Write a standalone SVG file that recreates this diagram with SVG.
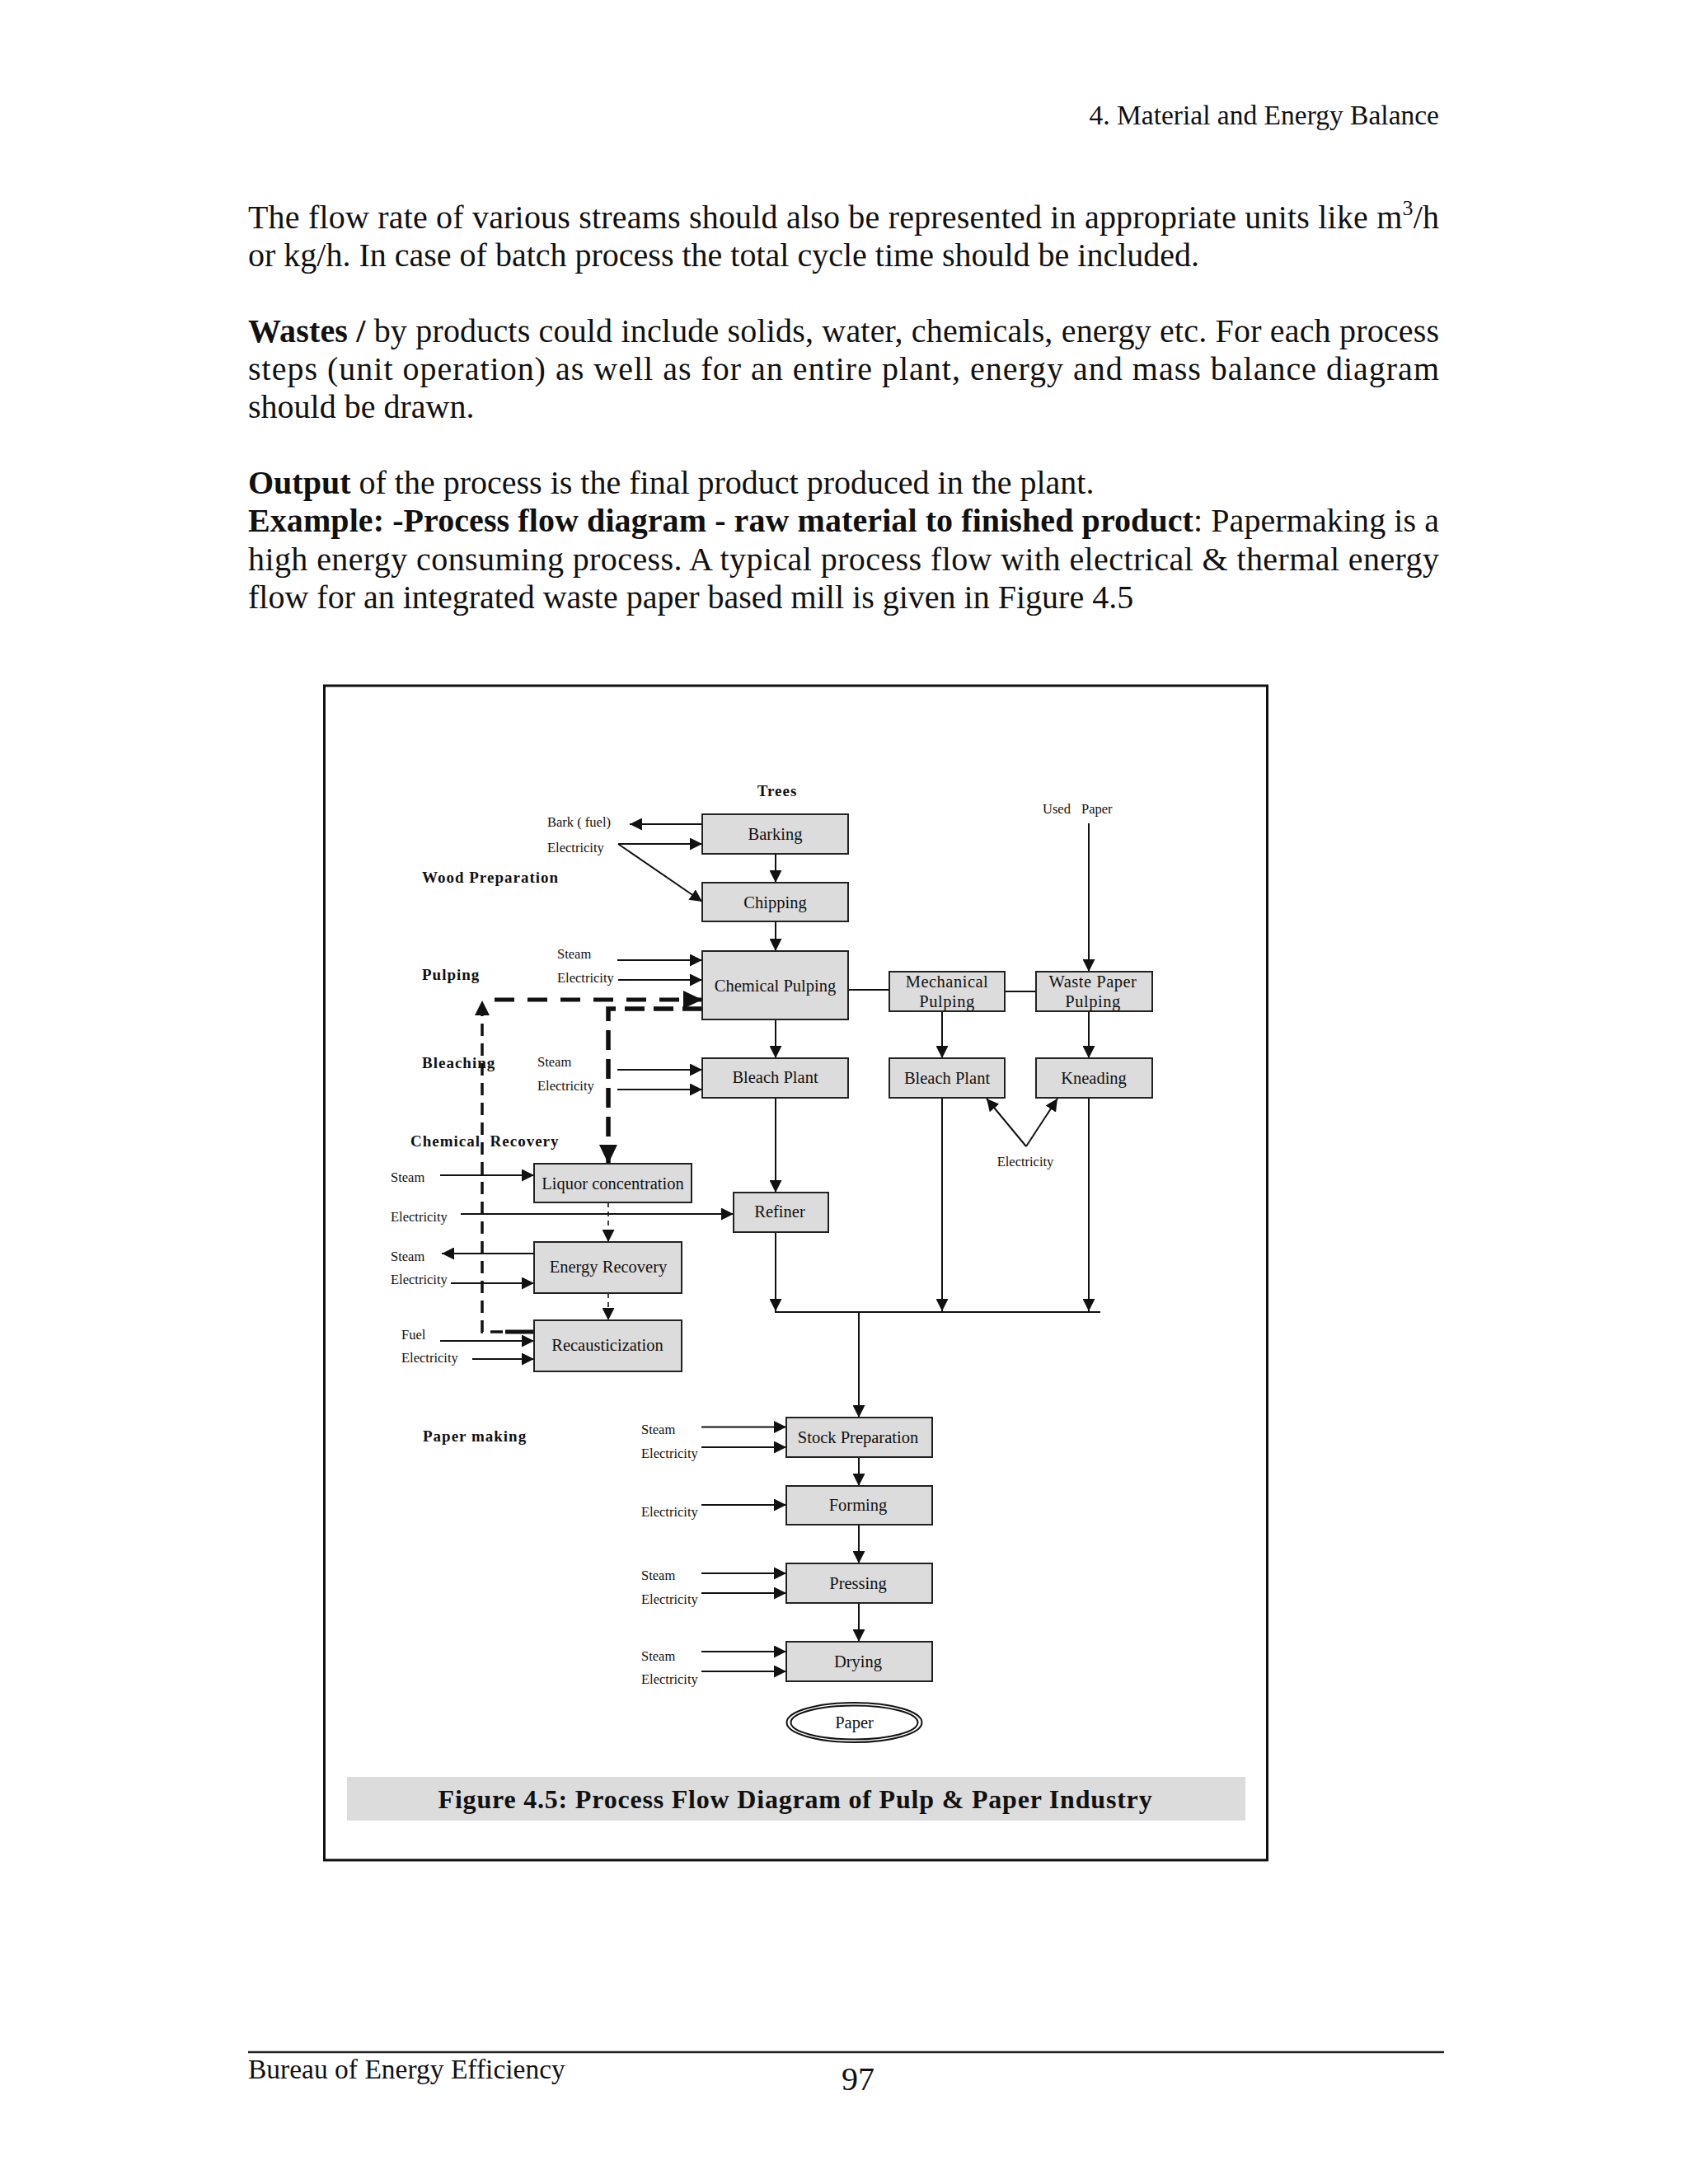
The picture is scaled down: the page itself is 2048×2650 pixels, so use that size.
<svg xmlns="http://www.w3.org/2000/svg" width="2048" height="2650" viewBox="0 0 2048 2650">
<style>
text{font-family:"Liberation Serif","Times New Roman",serif;fill:#111}
.pg{font-size:40px}
.hd{font-size:33.5px}
.box{fill:#dcdcdc;stroke:#222;stroke-width:2}
.nm{font-size:20.5px;text-anchor:middle}
.lb{font-size:16.5px}
.sec{font-size:19px;font-weight:bold;letter-spacing:1px}
.ln{stroke:#111;stroke-width:2;fill:none}
.ar{stroke:#111;stroke-width:2;fill:none;marker-end:url(#ah)}
.thk{stroke:#111;stroke-width:5;fill:none;stroke-dasharray:24 16}
.thn{stroke:#111;stroke-width:1.6;fill:none;stroke-dasharray:6 5;marker-end:url(#ah)}
</style>
<defs>
<marker id="ah" markerUnits="userSpaceOnUse" viewBox="0 0 15 15" markerWidth="15" markerHeight="15" refX="15" refY="7.5" orient="auto"><path d="M0,0 L15,7.5 L0,15 z" fill="#111"/></marker>
<marker id="ahb" markerUnits="userSpaceOnUse" viewBox="0 0 23 22" markerWidth="23" markerHeight="22" refX="23" refY="11" orient="auto"><path d="M0,0 L23,11 L0,22 z" fill="#111"/></marker>
<marker id="ahm" markerUnits="userSpaceOnUse" viewBox="0 0 18 18" markerWidth="18" markerHeight="18" refX="18" refY="9" orient="auto"><path d="M0,0 L18,9 L0,18 z" fill="#111"/></marker>
</defs>
<rect width="2048" height="2650" fill="#fff"/>

<g id="page-text">
<text class="hd" x="1746" y="151" text-anchor="end">4. Material and Energy Balance</text>
<text class="pg" x="301" y="277" textLength="1445">The flow rate of various streams should also be represented in appropriate units like m<tspan font-size="26" dy="-16">3</tspan><tspan dy="16">/h</tspan></text>
<text class="pg" x="301" y="323">or kg/h. In case of batch process the total cycle time should be included.</text>
<text class="pg" x="301" y="415" textLength="1445"><tspan font-weight="bold">Wastes /</tspan> by products could include solids, water, chemicals, energy etc. For each process</text>
<text class="pg" x="301" y="461" textLength="1445">steps (unit operation) as well as for an entire plant, energy and mass balance diagram</text>
<text class="pg" x="301" y="507">should be drawn.</text>
<text class="pg" x="301" y="599"><tspan font-weight="bold">Output</tspan> of the process is the final product produced in the plant.</text>
<text class="pg" x="301" y="645" textLength="1445"><tspan font-weight="bold">Example: -Process flow diagram - raw material to finished product</tspan>: Papermaking is a</text>
<text class="pg" x="301" y="692" textLength="1445">high energy consuming process. A typical process flow with electrical &amp; thermal energy</text>
<text class="pg" x="301" y="738">flow for an integrated waste paper based mill is given in Figure 4.5</text>
<line x1="301" y1="2490" x2="1752" y2="2490" stroke="#222" stroke-width="2.5"/>
<text class="hd" x="301" y="2522">Bureau of Energy Efficiency</text>
<text class="pg" x="1021" y="2536">97</text>
</g>

<rect id="frame" x="393.5" y="832" width="1144" height="1425" fill="none" stroke="#111" stroke-width="3"/>

<g id="labels">
<text class="sec" x="943" y="966" text-anchor="middle">Trees</text>
<text class="sec" x="512" y="1071">Wood  Preparation</text>
<text class="sec" x="512" y="1189">Pulping</text>
<text class="sec" x="512" y="1296">Bleaching</text>
<text class="sec" x="498" y="1391" xml:space="preserve">Chemical  Recovery</text>
<text class="sec" x="513" y="1749">Paper making</text>
<text class="lb" x="1265" y="987" word-spacing="9">Used Paper</text>
<text class="lb" x="664" y="1003">Bark ( fuel)</text>
<text class="lb" x="664" y="1034">Electricity</text>
<text class="lb" x="676" y="1163">Steam</text>
<text class="lb" x="676" y="1192">Electricity</text>
<text class="lb" x="652" y="1294">Steam</text>
<text class="lb" x="652" y="1323">Electricity</text>
<text class="lb" x="1244" y="1415" text-anchor="middle">Electricity</text>
<text class="lb" x="474" y="1434">Steam</text>
<text class="lb" x="474" y="1482">Electricity</text>
<text class="lb" x="474" y="1530">Steam</text>
<text class="lb" x="474" y="1558">Electricity</text>
<text class="lb" x="487" y="1625">Fuel</text>
<text class="lb" x="487" y="1653">Electricity</text>
<text class="lb" x="778" y="1740">Steam</text>
<text class="lb" x="778" y="1769">Electricity</text>
<text class="lb" x="778" y="1840">Electricity</text>
<text class="lb" x="778" y="1917">Steam</text>
<text class="lb" x="778" y="1946">Electricity</text>
<text class="lb" x="778" y="2015">Steam</text>
<text class="lb" x="778" y="2043">Electricity</text>
</g>

<g id="connectors">
<line class="ar" x1="941" y1="1036" x2="941" y2="1071"/>
<line class="ar" x1="941" y1="1118" x2="941" y2="1154"/>
<line class="ar" x1="941" y1="1237" x2="941" y2="1284"/>
<line class="ar" x1="941" y1="1332" x2="941" y2="1447"/>
<line class="ar" x1="941" y1="1495" x2="941" y2="1591"/>
<line class="ar" x1="1143" y1="1224" x2="1143" y2="1284"/>
<line class="ar" x1="1321" y1="1224" x2="1321" y2="1284"/>
<line class="ar" x1="1321" y1="999" x2="1321" y2="1179"/>
<line class="ar" x1="1143" y1="1332" x2="1143" y2="1591"/>
<line class="ar" x1="1321" y1="1332" x2="1321" y2="1591"/>
<line class="ln" x1="940" y1="1592" x2="1335" y2="1592"/>
<line class="ar" x1="1042" y1="1592" x2="1042" y2="1720"/>
<line class="ar" x1="1042" y1="1768" x2="1042" y2="1803"/>
<line class="ar" x1="1042" y1="1850" x2="1042" y2="1897"/>
<line class="ar" x1="1042" y1="1945" x2="1042" y2="1992"/>
<line class="ln" x1="1029" y1="1201" x2="1079" y2="1201"/>
<line class="ln" x1="1219" y1="1203" x2="1257" y2="1203"/>
<line class="ar" x1="1245" y1="1391" x2="1197" y2="1333"/>
<line class="ar" x1="1245" y1="1391" x2="1283" y2="1333"/>
<line class="ar" x1="852" y1="1000" x2="764" y2="1000"/>
<line class="ar" x1="750" y1="1024" x2="852" y2="1024"/>
<line class="ar" x1="750" y1="1024" x2="852" y2="1094"/>
<line class="ar" x1="749" y1="1165" x2="852" y2="1165"/>
<line class="ar" x1="750" y1="1189" x2="852" y2="1189"/>
<line class="ar" x1="749" y1="1298" x2="852" y2="1298"/>
<line class="ar" x1="749" y1="1322" x2="852" y2="1322"/>
<line class="ar" x1="534" y1="1426" x2="648" y2="1426"/>
<line class="ar" x1="559" y1="1473" x2="890" y2="1473"/>
<line class="ar" x1="648" y1="1521" x2="536" y2="1521"/>
<line class="ar" x1="547" y1="1557" x2="648" y2="1557"/>
<line class="ar" x1="534" y1="1627" x2="648" y2="1627"/>
<line class="ar" x1="573" y1="1649" x2="648" y2="1649"/>
<line class="ar" x1="851" y1="1731.5" x2="954" y2="1731.5"/>
<line class="ar" x1="851" y1="1756" x2="954" y2="1756"/>
<line class="ar" x1="851" y1="1826" x2="954" y2="1826"/>
<line class="ar" x1="851" y1="1909" x2="954" y2="1909"/>
<line class="ar" x1="851" y1="1933" x2="954" y2="1933"/>
<line class="ar" x1="851" y1="2004" x2="954" y2="2004"/>
<line class="ar" x1="851" y1="2028" x2="954" y2="2028"/>
<path d="M600,1213 L852,1213" class="thk" marker-end="url(#ahb)"/>
<path d="M610,1616 L585,1616 L585,1214" fill="none" stroke="#111" stroke-width="3.5" stroke-dasharray="15 9" marker-end="url(#ahm)"/>
<line x1="613" y1="1616" x2="648" y2="1616" stroke="#111" stroke-width="5"/>
<path d="M852,1224 L738,1224 L738,1412" fill="none" stroke="#111" stroke-width="5.5" stroke-dasharray="24 11" marker-end="url(#ahb)"/>
<line class="thn" x1="738" y1="1459" x2="738" y2="1507"/>
<line class="thn" x1="738" y1="1569" x2="738" y2="1602"/>
</g>

<g id="barking"><rect class="box" x="852" y="988" width="177" height="48"/><text class="nm" x="940.5" y="1019">Barking</text></g>
<g id="chipping"><rect class="box" x="852" y="1071" width="177" height="47"/><text class="nm" x="940.5" y="1102">Chipping</text></g>
<g id="chemical-pulping"><rect class="box" x="852" y="1154" width="177" height="83"/><text class="nm" x="940.5" y="1203">Chemical Pulping</text></g>
<g id="mechanical-pulping"><rect class="box" x="1079" y="1179" width="140" height="48"/><text class="nm" x="1149" y="1198" letter-spacing="0.5">Mechanical</text><text class="nm" x="1149" y="1222" letter-spacing="0.5">Pulping</text></g>
<g id="waste-paper-pulping"><rect class="box" x="1257" y="1179" width="141" height="48"/><text class="nm" x="1326" y="1198" letter-spacing="0.5">Waste Paper</text><text class="nm" x="1326" y="1222" letter-spacing="0.5">Pulping</text></g>
<g id="bleach-plant-1"><rect class="box" x="852" y="1284" width="177" height="48"/><text class="nm" x="940.5" y="1314">Bleach Plant</text></g>
<g id="bleach-plant-2"><rect class="box" x="1079" y="1284" width="140" height="48"/><text class="nm" x="1149" y="1315">Bleach Plant</text></g>
<g id="kneading"><rect class="box" x="1257" y="1284" width="141" height="48"/><text class="nm" x="1327" y="1315">Kneading</text></g>
<g id="liquor-concentration"><rect class="box" x="648" y="1412" width="191" height="47"/><text class="nm" x="743.5" y="1443">Liquor concentration</text></g>
<g id="refiner"><rect class="box" x="890" y="1447" width="115" height="48"/><text class="nm" x="946" y="1477">Refiner</text></g>
<g id="energy-recovery"><rect class="box" x="648" y="1507" width="179" height="62"/><text class="nm" x="738" y="1544">Energy Recovery</text></g>
<g id="recausticization"><rect class="box" x="648" y="1602" width="179" height="62"/><text class="nm" x="737" y="1639">Recausticization</text></g>
<g id="stock-preparation"><rect class="box" x="954" y="1720" width="177" height="48"/><text class="nm" x="1041" y="1751">Stock Preparation</text></g>
<g id="forming"><rect class="box" x="954" y="1803" width="177" height="47"/><text class="nm" x="1041" y="1833">Forming</text></g>
<g id="pressing"><rect class="box" x="954" y="1897" width="177" height="48"/><text class="nm" x="1041" y="1928">Pressing</text></g>
<g id="drying"><rect class="box" x="954" y="1992" width="177" height="48"/><text class="nm" x="1041" y="2023">Drying</text></g>
<g id="paper"><ellipse cx="1036.5" cy="2090" rx="82" ry="24" fill="#fff" stroke="#111" stroke-width="2"/><ellipse cx="1036.5" cy="2090" rx="77" ry="20.5" fill="none" stroke="#111" stroke-width="2"/><text class="nm" x="1036.5" y="2097">Paper</text></g>

<g id="caption"><rect x="421" y="2156" width="1090" height="53" fill="#dcdcdc"/><text x="965" y="2194" text-anchor="middle" font-size="32" font-weight="bold" letter-spacing="0.8">Figure 4.5: Process Flow Diagram of Pulp &amp; Paper Industry</text></g>
</svg>
